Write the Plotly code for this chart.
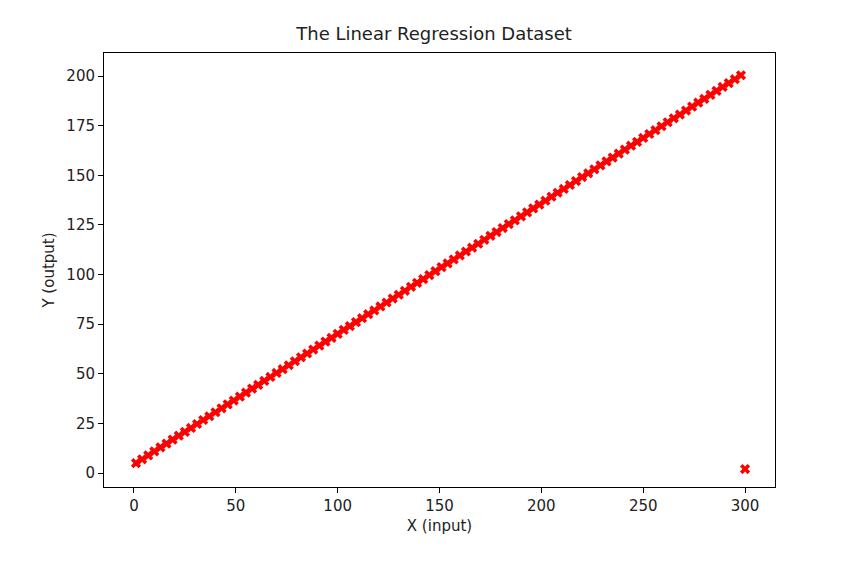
import plotly.graph_objects as go

x_vals = [1,4,7,10,13,16,19,22,25,28,31,34,37,40,43,46,49,52,55,58,61,64,67,70,73,76,79,82,85,88,91,94,97,100,
          103,106,109,112,115,118,121,124,127,130,133,136,139,142,145,148,151,154,157,160,163,166,169,172,175,178,
          181,184,187,190,193,196,199,202,205,208,211,214,217,220,223,226,229,232,235,238,241,244,247,250,253,256,
          259,262,265,268,271,274,277,280,283,286,289,292,295,298,300]
y_vals = [5.0,6.9,8.9,10.9,12.9,14.8,16.8,18.8,20.7,22.7,24.7,26.7,28.6,30.6,32.6,34.6,36.5,38.5,40.5,42.5,
          44.4,46.4,48.4,50.4,52.3,54.3,56.3,58.3,60.2,62.2,64.2,66.2,68.1,70.1,72.1,74.0,76.0,78.0,80.0,81.9,
          83.9,85.9,87.9,89.8,91.8,93.8,95.8,97.7,99.7,101.7,103.7,105.6,107.6,109.6,111.6,113.5,115.5,117.5,
          119.5,121.4,123.4,125.4,127.3,129.3,131.3,133.3,135.2,137.2,139.2,141.2,143.1,145.1,147.1,149.1,151.0,
          153.0,155.0,157.0,158.9,160.9,162.9,164.9,166.8,168.8,170.8,172.7,174.7,176.7,178.7,180.6,182.6,184.6,
          186.6,188.5,190.5,192.5,194.5,196.4,198.4,200.4,2.0]

fig = go.Figure(go.Scatter(x=x_vals, y=y_vals, mode="markers",
                           marker=dict(symbol="x", size=9, color="red", line=dict(width=0))))
ax = dict(showgrid=False, zeroline=False, showline=True, linecolor="black", linewidth=1, mirror=True,
          ticks="outside", ticklen=5, tickcolor="black", tickfont=dict(size=15, color="#222"))
fig.update_layout(
    width=852, height=564, margin=dict(l=96, r=85, t=45, b=85),
    paper_bgcolor="white", plot_bgcolor="white", showlegend=False,
    font=dict(family="DejaVu Sans", color="#222"),
    title=dict(text="The Linear Regression Dataset", x=0.5, xanchor="center", y=0.955, yanchor="middle",
               font=dict(size=18, color="#222")),
    xaxis=dict(ax, range=[-14.7, 314.7], tickvals=[0,50,100,150,200,250,300],
               title=dict(text="X (input)", font=dict(size=15), standoff=6)),
    yaxis=dict(ax, range=[-7.05, 211.6], tickvals=[0,25,50,75,100,125,150,175,200],
               title=dict(text="Y (output)", font=dict(size=15), standoff=8)),
)
fig.write_html("out.html")
